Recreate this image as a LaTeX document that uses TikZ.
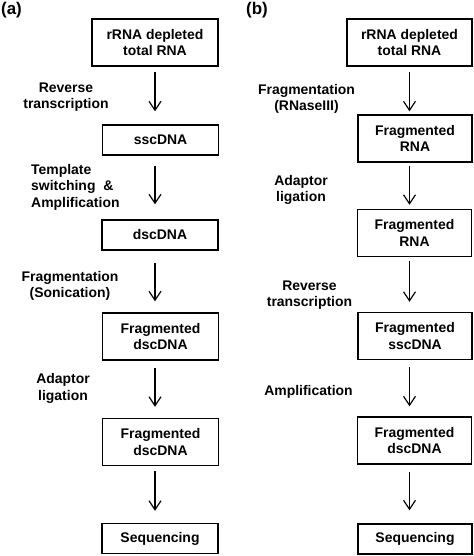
\documentclass[tikz,border=0pt]{standalone}
\usepackage{fontspec}
\setmainfont{Liberation Sans}
\usetikzlibrary{arrows.meta}
\tikzset{
  x=1bp, y=-1bp,
  box/.style={draw, line width=1.3bp, inner sep=0pt, align=center,
    minimum width=116bp, font=\bfseries\fontsize{14}{16.5}\selectfont},
  tall/.style={minimum height=47bp},
  short/.style={minimum height=30bp},
  lab/.style={inner sep=0pt, align=center, font=\bfseries\fontsize{14}{16.5}\selectfont},
  panel/.style={inner sep=0pt, font=\bfseries\fontsize{17}{20}\selectfont},
  arr/.style={line width=1.2bp, -{Straight Barb[length=9bp,width=12bp,line width=1.2bp]}}
}
\begin{document}
\begin{tikzpicture}
\useasboundingbox (0,0) rectangle (474,556);
% panel labels
\node[panel] (pa) at (11.5,10) {(a)};
\node[panel] (pb) at (257,10) {(b)};
% left column
\node[box,tall,minimum width=126bp] (L1) at (155,42.5) {rRNA depleted\\total RNA};
\node[box,short] (L2) at (160.5,140) {sscDNA};
\node[box,short] (L3) at (160,235) {dscDNA};
\node[box,tall] (L4) at (160.5,336.5) {Fragmented\\dscDNA};
\node[box,tall] (L5) at (160.5,442) {Fragmented\\dscDNA};
\node[box,short] (L6) at (160,538.5) {Sequencing};
\draw[arr, shorten <=5bp, shorten >=13bp] (L1.south) -- (L2.north -| L1.south);
\draw[arr, shorten <=10bp, shorten >=15bp] (L2.south -| L1.south) -- (L3.north -| L1.south);
\draw[arr, shorten <=12bp, shorten >=11bp] (L3.south -| L1.south) -- (L4.north -| L1.south);
\draw[arr, shorten <=7bp, shorten >=11bp] (L4.south -| L1.south) -- (L5.north -| L1.south);
\draw[arr, shorten <=5bp, shorten >=12bp] (L5.south -| L1.south) -- (L6.north -| L1.south);
\node[lab] (la1) at (66,97) {Reverse\\transcription};
\node[lab, align=left, anchor=west] (la2) at (31,187) {Template\\switching \ \&\\Amplification};
\node[lab] (la3) at (70,286) {Fragmentation\\(Sonication)};
\node[lab] (la4) at (63,388.5) {Adaptor\\ligation};
% right column
\node[box,tall,minimum width=125bp] (R1) at (409.5,42.5) {rRNA depleted\\total RNA};
\node[box,tall,minimum width=114bp] (R2) at (415,138.5) {Fragmented\\RNA};
\node[box,tall,minimum width=114bp] (R3) at (414.5,233) {Fragmented\\RNA};
\node[box,tall,minimum width=114bp] (R4) at (415,336) {Fragmented\\sscDNA};
\node[box,tall,minimum width=114bp] (R5) at (414.5,440.5) {Fragmented\\dscDNA};
\node[box,short,minimum width=114bp] (R6) at (415,539) {Sequencing};
\draw[arr, shorten <=5bp, shorten >=3bp] (R1.south) -- (R2.north -| R1.south);
\draw[arr, shorten <=3bp, shorten >=4bp] (R2.south -| R1.south) -- (R3.north -| R1.south);
\draw[arr, shorten <=4bp, shorten >=10bp] (R3.south -| R1.south) -- (R4.north -| R1.south);
\draw[arr, shorten <=7bp, shorten >=10bp] (R4.south -| R1.south) -- (R5.north -| R1.south);
\draw[arr, shorten <=7bp, shorten >=13bp] (R5.south -| R1.south) -- (R6.north -| R1.south);
\node[lab] (lb1) at (306.5,99) {Fragmentation\\(RNaseIII)};
\node[lab] (lb2) at (301,190) {Adaptor\\ligation};
\node[lab] (lb3) at (309.5,295) {Reverse\\transcription};
\node[lab] (lb4) at (308.5,392) {Amplification};
\end{tikzpicture}
\end{document}
